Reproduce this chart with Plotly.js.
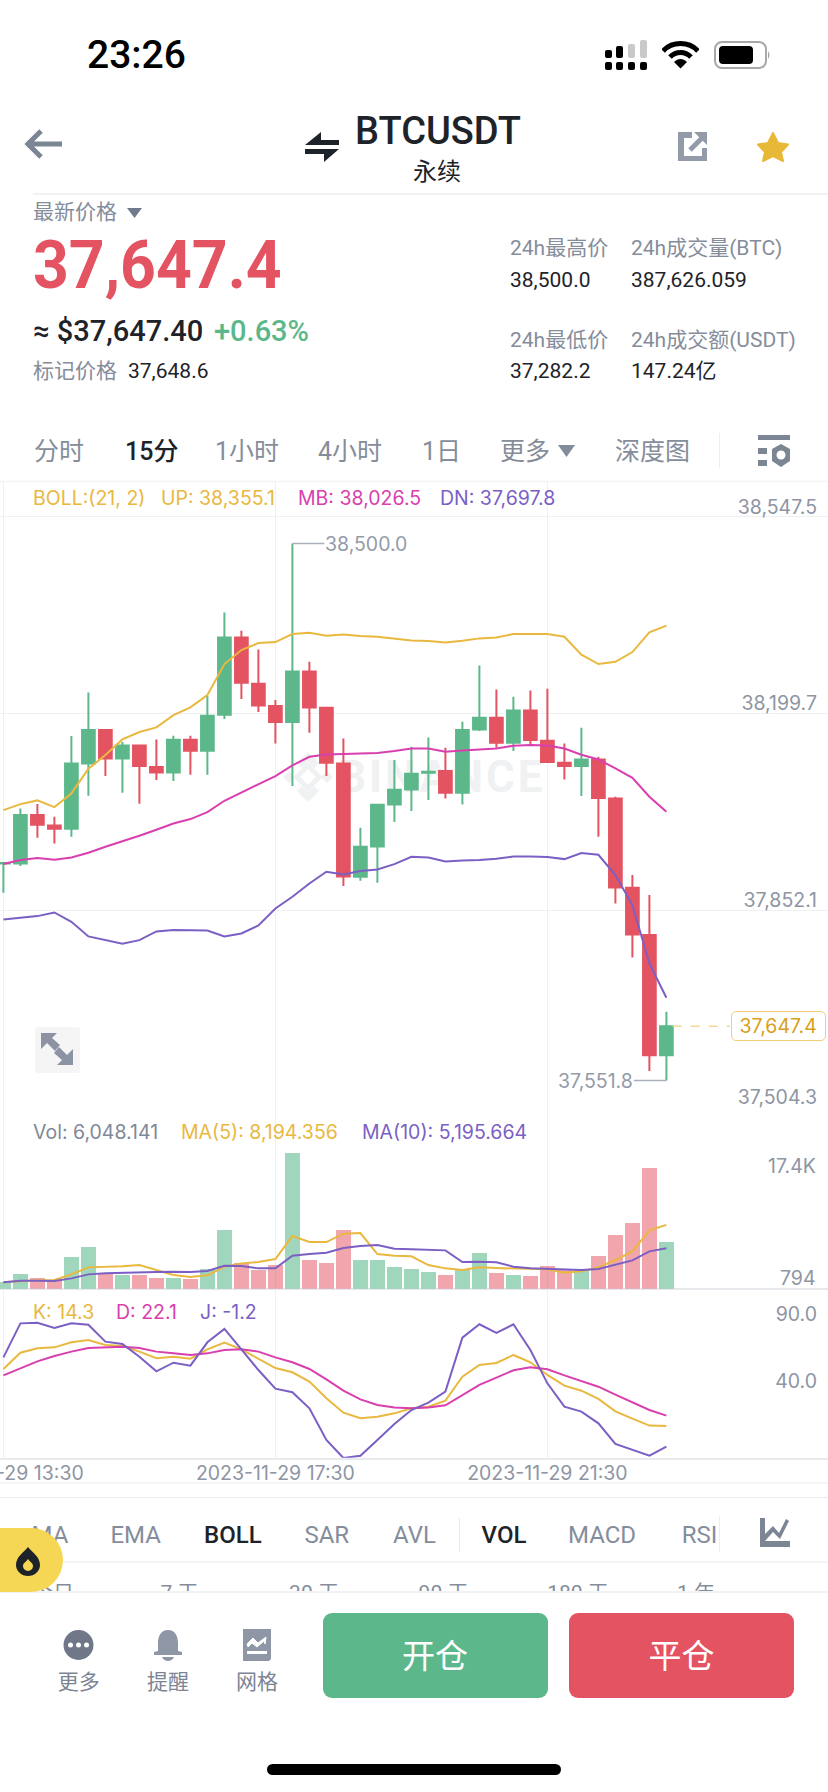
<!DOCTYPE html>
<html lang="zh"><head><meta charset="utf-8">
<script src="https://cdn.plot.ly/plotly-3.0.1.min.js"></script>
<style>
html,body{margin:0;padding:0;background:#fff;width:828px;height:1792px;overflow:hidden}
#wm,#chart,#ui{position:absolute;left:0;top:0;width:828px;height:1792px}
#ui{pointer-events:none}
#ui span.t{position:absolute;white-space:nowrap;transform:translateY(-50%);line-height:1;font-family:Roboto,"Noto Sans CJK SC",sans-serif}
#ui svg,#wm svg{position:absolute}
.box{position:absolute}
</style></head><body>
<div id="wm"></div><div id="chart"></div><div id="ui"></div>
<script>
const categories=[0,1,2,3,4,5,6,7,8,9,10,11,12,13,14,15,16,17,18,19,20,21,22,23,24,25,26,27,28,29,30,31,32,33,34,35,36,37,38,39];
const timeTickIndex=[0,16,32];
const timeTickLabels=["2023-11-29 13:30","2023-11-29 17:30","2023-11-29 21:30"];
const priceTicks=[38547.5,38199.7,37852.1,37504.3];
const priceTickLabels=["38,547.5","38,199.7","37,852.1","37,504.3"];
const kdjTicks=[90,40];
const kdjTickLabels=["90.0","40.0"];
const open=[37935.1,37935.1,38020.5,38002.2,37996.3,38111.7,38170.6,38120.6,38143.5,38105.3,38095.8,38153.5,38134.1,38197.7,38334.3,38252.5,38213.0,38184.8,38274.3,38210.1,38111.7,37911.5,37965.1,38039.3,38065.8,38095.2,38098.2,38059.9,38171.8,38192.4,38148.2,38205.4,38151.8,38112.9,38107.0,38118.8,38049.9,37892.1,37808.5,37596.4];
const high=[37936.0,38032.2,38039.9,38017.5,38160.0,38237.2,38170.6,38149.4,38145.3,38154.1,38160.6,38160.6,38230.7,38378.5,38346.1,38313.1,38223.6,38500.0,38291.3,38210.1,38155.9,37998.1,38038.7,38117.6,38141.2,38157.7,38139.4,38185.3,38284.9,38242.5,38229.5,38240.7,38243.6,38147.1,38174.8,38123.5,38052.8,37914.5,37879.1,37673.0];
const low=[37883.2,37930.4,37980.4,37970.4,37982.2,38054.6,38089.4,38059.9,38040.5,38082.3,38080.5,38091.7,38091.7,38190.1,38225.4,38202.4,38147.1,38071.7,38165.9,38089.4,37895.0,37904.4,37900.9,38008.1,38027.5,38047.0,38049.9,38039.3,38168.9,38139.4,38133.5,38145.9,38114.1,38083.5,38054.0,37982.2,37864.4,37769.0,37568.2,37551.8];
const close=[37936.0,38020.5,38003.4,37996.3,38111.7,38170.6,38120.6,38143.5,38107.0,38095.8,38153.5,38134.1,38195.9,38334.3,38254.2,38214.2,38184.8,38274.3,38210.7,38112.9,37912.1,37964.5,38038.7,38065.2,38093.5,38097.0,38059.9,38170.6,38192.4,38148.2,38205.4,38153.0,38114.1,38107.0,38118.8,38050.5,37892.7,37809.6,37596.4,37647.4];
const bollUp=[38029.3,38039.9,38046.4,38034.6,38058.7,38102.3,38126.5,38154.1,38167.1,38175.3,38197.1,38210.7,38232.5,38287.2,38312.0,38324.3,38326.1,38340.2,38342.6,38337.3,38339.6,38336.7,38335.5,38332.6,38329.0,38327.9,38325.5,38328.5,38332.6,38334.3,38340.2,38340.2,38340.2,38335.5,38303.7,38287.2,38291.3,38308.4,38343.2,38355.1];
const bollMb=[37933.9,37941.0,37944.5,37941.5,37945.7,37953.9,37964.5,37973.9,37983.9,37994.5,38005.7,38013.4,38025.8,38045.8,38060.5,38075.2,38089.4,38108.2,38123.5,38127.6,38128.2,38128.8,38130.0,38133.5,38138.2,38138.2,38132.3,38134.7,38136.5,38138.2,38142.9,38144.1,38143.5,38138.2,38127.0,38118.8,38102.9,38086.4,38052.8,38026.5];
const bollDn=[37836.1,37839.7,37842.0,37848.5,37832.0,37806.1,37799.6,37793.1,37799.6,37814.9,37817.3,37817.3,37816.7,37806.1,37811.4,37825.5,37855.6,37876.2,37899.7,37920.3,37915.6,37921.5,37924.5,37933.9,37946.8,37945.7,37938.6,37940.4,37941.0,37943.3,37947.4,37947.4,37946.3,37942.7,37953.3,37950.4,37914.5,37861.5,37758.4,37697.8];
const volume=[856,1926,1327,1027,4023,5350,2012,1712,1755,1412,1412,1241,2482,7576,3253,2354,2996,17462,3681,3253,7576,3681,3724,2782,2482,2140,1798,2482,4580,1969,1798,1669,2910,2525,2397,4152,6848,8474,15451,6048];
const volMa5=[813,984,1070,1113,1840,2739,2782,2868,3039,2397,1755,1498,1712,2825,3253,3424,3809,6762,5992,5992,7062,7148,4451,4237,4152,3039,2611,2397,2739,2654,2568,2482,2482,2054,2226,2739,3681,4794,7490,8194];
const volMa10=[813,1027,1027,984,1327,1840,1969,2054,2097,2140,2183,2140,2268,2953,2910,2611,2611,4237,4451,4622,5222,5478,5607,5136,5050,5008,4922,3424,3467,3381,2825,2611,2568,2440,2397,2525,3039,3638,4794,5196];
const kdjK=[57.1,69.3,72.6,73.3,77.1,78.8,75.1,74.3,70.1,65.1,66.3,64.8,71.8,76.8,71.8,64.8,57.8,54.6,47.6,35.1,24.3,20.1,21.3,23.8,27.6,28.8,33.3,51.3,60.1,61.6,67.6,62.1,52.6,44.6,40.8,34.6,25.3,19.8,14.6,14.3];
const kdjD=[52.3,57.6,62.8,66.8,70.1,72.8,73.3,73.8,72.8,70.1,68.8,67.6,68.8,71.3,71.8,70.1,65.8,62.1,57.1,49.3,40.8,34.3,30.1,28.1,27.6,28.1,29.8,37.6,45.1,50.6,56.1,58.3,56.8,52.3,48.3,43.8,37.8,32.1,26.3,22.1];
const kdjJ=[65.8,91.3,91.8,87.8,91.3,90.3,77.6,75.8,66.3,55.3,61.8,59.6,77.1,87.1,71.8,56.3,42.3,39.6,27.6,3.8,-9.7,-8.0,3.8,15.8,26.3,31.8,40.1,80.6,90.6,84.1,90.6,71.3,46.3,28.8,25.1,16.3,0.8,-3.7,-8.0,-1.2];

const GREEN='#5cb88a',RED='#e45361',GOLD='#e9b83f',PINK='#d93fae',PURPLE='#7b5fc4',GRAY='#8e95a3',GRID='#eff0f2';
const W=828,H=1792;
const dom=(t,b)=>[1-b/H,1-t/H];
const px=x=>x/W, py=y=>1-y/H;
const xr=[-0.2,48.506];
const FS=19.5;
const lineTrace=(x,y,c,xa,ya)=>({type:'scatter',mode:'lines',x,y,xaxis:xa,yaxis:ya,line:{color:c,width:2,shape:'linear'},hoverinfo:'skip'});
const data=[
 {type:'candlestick',x:categories,open,high,low,close,xaxis:'x',yaxis:'y',whiskerwidth:0,
  increasing:{line:{color:GREEN,width:2},fillcolor:GREEN},decreasing:{line:{color:RED,width:2},fillcolor:RED},hoverinfo:'skip'},
 lineTrace(categories,bollUp,GOLD,'x','y'),lineTrace(categories,bollMb,PINK,'x','y'),lineTrace(categories,bollDn,PURPLE,'x','y'),
 {type:'bar',x:categories,y:volume,xaxis:'x2',yaxis:'y2',width:0.875,marker:{color:close.map((c,i)=>c>=open[i]?'rgba(92,184,138,0.58)':'rgba(228,83,97,0.52)'),line:{width:0}},hoverinfo:'skip'},
 lineTrace(categories,volMa5,GOLD,'x2','y2'),lineTrace(categories,volMa10,PURPLE,'x2','y2'),
 lineTrace(categories,kdjK,GOLD,'x3','y3'),lineTrace(categories,kdjD,PINK,'x3','y3'),lineTrace(categories,kdjJ,PURPLE,'x3','y3')
];
const F={family:'Inter, Roboto, sans-serif',size:FS,color:GRAY};
const xbase={type:'linear',range:xr,showgrid:true,gridcolor:GRID,gridwidth:1,zeroline:false,tickmode:'array',tickvals:timeTickIndex,ticktext:timeTickLabels,showticklabels:false,ticks:'',rangeslider:{visible:false},fixedrange:true};
const ybase={side:'right',showgrid:false,zeroline:false,fixedrange:true,showticklabels:false,ticks:''};
const yInside={showticklabels:true,tickmode:'array',ticklabelposition:'inside',ticklabelstandoff:8,ticklabelshift:-10,ticklabeloverflow:'allow',tickfont:F};
const note=(text,x,y,color,extra)=>Object.assign({text,xref:'paper',yref:'paper',x:px(x),y:py(y),xanchor:'left',yanchor:'middle',showarrow:false,font:{family:F.family,size:FS,color},borderpad:0,borderwidth:0},extra||{});
const layout={width:W,height:H,margin:{l:0,r:0,t:0,b:0},paper_bgcolor:'rgba(0,0,0,0)',plot_bgcolor:'rgba(0,0,0,0)',showlegend:false,bargap:0,boxgap:0.253,boxgroupgap:0,hovermode:false,font:F,
 xaxis:Object.assign({},xbase,{domain:[0,1],anchor:'y'}),
 xaxis2:Object.assign({},xbase,{domain:[0,1],anchor:'y2'}),
 xaxis3:Object.assign({},xbase,{domain:[0,1],anchor:'y3',showticklabels:true,tickfont:F,ticklabeloverflow:'allow',ticklabelposition:'outside',ticklabelstandoff:-3,showline:true,linecolor:'#e8eaed',linewidth:2}),
 yaxis:Object.assign({},ybase,yInside,{domain:dom(481,1107.3),anchor:'x',range:[37504.3,38610.6],tickvals:priceTicks,ticktext:priceTickLabels,showgrid:true,gridcolor:GRID,gridwidth:1.5}),
 yaxis2:Object.assign({},ybase,{domain:dom(1107.3,1288.7),anchor:'x2',range:[0,23292],zeroline:true,zerolinecolor:'#e6e8ec',zerolinewidth:2}),
 yaxis3:Object.assign({},ybase,yInside,{domain:dom(1288.7,1457.7),anchor:'x3',range:[-9.47,117.3],tickvals:kdjTicks,ticktext:kdjTickLabels,ticklabelshift:-11}),
 shapes:[
  {type:'line',xref:'paper',yref:'paper',x0:0,x1:1,y0:py(481.5),y1:py(481.5),line:{color:'#f3f4f5',width:1.5}},
  {type:'line',xref:'x',yref:'y',x0:17,x1:18.88,y0:38500,y1:38500,line:{color:'#a9b0ba',width:1.5}},
  {type:'line',xref:'x',yref:'y',x0:37.09,x1:39,y0:37551.8,y1:37551.8,line:{color:'#a9b0ba',width:1.5}},
  {type:'line',xref:'x',yref:'y',x0:39.37,x1:42.74,y0:37647.4,y1:37647.4,line:{color:'#f2d98f',width:1.5,dash:'dash'}}
 ],
 annotations:[
  note('BOLL:(21, 2)',32.7,498,GOLD),note('UP: 38,355.1',160.7,498,GOLD),note('MB: 38,026.5',297.7,498,PINK),note('DN: 37,697.8',440,498,PURPLE),
  note('38,500.0',325,544,'#949ba8'),note('37,551.8',558.3,1081,'#949ba8'),
  note('Vol: 6,048.141',32.7,1131.7,'#808897'),note('MA(5): 8,194.356',181,1131.7,GOLD),note('MA(10): 5,195.664',361.7,1131.7,PURPLE),
  note('K: 14.3',32.7,1312,GOLD),note('D: 22.1',115.7,1312,PINK),note('J: -1.2',200,1312,PURPLE),
  note('17.4K',816,1166,GRAY,{xanchor:'right'}),note('794',816,1278.3,GRAY,{xanchor:'right'})
 ]
};
Plotly.newPlot('chart',data,layout,{displayModeBar:false,staticPlot:true});

/* watermark behind the plot */
document.getElementById('wm').innerHTML=
 '<svg style="left:283px;top:752px" width="50" height="50" viewBox="0 0 50 50"><g fill="#f0f1f2"><rect x="17" y="17" width="16" height="16" transform="rotate(45 25 25)" fill="none" stroke="#f0f1f2" stroke-width="5"/><path d="M25 0l11 11-5 5-6-6-6 6-5-5zM25 50L14 39l5-5 6 6 6-6 5 5zM0 25l6-6 6 6-6 6zM50 25l-6-6-6 6 6 6z"/></g></svg>'+
 '<span style="position:absolute;left:338px;top:777px;transform:translateY(-50%);font:700 44px Roboto,sans-serif;letter-spacing:3px;color:#f0f1f2;white-space:nowrap">BINANCE</span>';

/* app chrome */
const ui=document.getElementById('ui');let h='';
const T=(s,x,y,size,color,w,anchor,sx)=>{h+=`<span class="t" style="${anchor==='c'?'transform:translate(-50%,-50%);':''}${sx?`transform:translateY(-50%) scaleX(${sx});transform-origin:left center;`:''}left:${x}px;top:${y}px;font-size:${size}px;color:${color};font-weight:${w||400}">${s}</span>`};
const S=(x,y,w,ht,inner,vb)=>{h+=`<svg style="left:${x}px;top:${y}px" width="${w}" height="${ht}" viewBox="${vb||`0 0 ${w} ${ht}`}">${inner}</svg>`};
const R=(x,y,w,ht,bg,extra)=>{h+=`<div class="box" style="left:${x}px;top:${y}px;width:${w}px;height:${ht}px;background:${bg};${extra||''}"></div>`};
const DK='#1e2329',LB='#858d9b',IC='#8c93a2';
T('23:26',87,55,39,'#000',500);
S(605,40,43,30,'<g fill="#000"><rect x="0" y="10" width="7" height="8" rx="2"/><rect x="11" y="6" width="7" height="12" rx="2"/><rect x="0" y="22" width="7" height="8" rx="2"/><rect x="11" y="22" width="7" height="8" rx="2"/><rect x="23" y="22" width="7" height="8" rx="2"/><rect x="35" y="22" width="7" height="8" rx="2"/></g><g fill="#c9c9c9"><rect x="23" y="4" width="7" height="14" rx="2"/><rect x="35" y="0" width="7" height="18" rx="2"/></g>');
S(662,41,37,28,'<path d="M1 10C10 0 27 0 36 10" stroke="#000" stroke-width="5" fill="none"/><path d="M8 16c6-6 15-6 21 0" stroke="#000" stroke-width="5" fill="none"/><path d="M12 21c4-4 9-4 13 0l-6.500 6.500z" fill="#000"/>');
S(714,41,58,28,'<rect x="1" y="1" width="51" height="26" rx="7" fill="#fff" stroke="#a8a8a8" stroke-width="2"/><rect x="5" y="5" width="34" height="18" rx="4" fill="#000"/><path d="M54 10q3 4 0 8z" fill="#a8a8a8"/>');
S(24,129,39,30,'<path d="M38 15H6M17 2L4 15l13 13" stroke="#7c8594" stroke-width="5" fill="none"/>');
S(305,132,35,30,'<path d="M16 0V8H34V13H0zM0 17H34L19 30V22H0z" fill="#1e2329"/>');
T('BTCUSDT',355,130.500,38,'#1e2329',500);
T('永续',437,172,24,DK,400,'c');
S(678,132,29,29,'<path d="M14 3H3v24h24V16" stroke="#949ba8" stroke-width="6" fill="none"/><path d="M12 18L24 6" stroke="#949ba8" stroke-width="5"/><path d="M16 0h13v13z" fill="#949ba8"/>');
S(756,131,34,32,'<path d="M17 2l5 10 10 1.500-7 7.500 2 9-10-5-10 5 2-9-7-7.500L12 12z" fill="#e8b838" stroke="#e8b838" stroke-width="2" stroke-linejoin="round"/>');
R(33,193,795,1.500,'#f1f2f3');
T('最新价格',33,212,21,LB);
S(127,208,15,11,'<path d="M0 0h15l-7.500 10z" fill="#6f7a8c"/>');
T('37,647.4',33,266,66,RED,700,'',0.947);
T('≈ $37,647.40',33,331,29,DK,500);
T('+0.63%',214,331,29,GREEN,500);
T('标记价格',33,371,21,LB);
T('37,648.6',128,371,21,DK);
T('24h最高价',510,248,21,LB);T('38,500.0',510,280,21,DK);
T('24h成交量(BTC)',631,248,21,LB);T('387,626.059',631,280,21,DK);
T('24h最低价',510,340,21,LB);T('37,282.2',510,371,21,DK);
T('24h成交额(USDT)',631,340,21,LB);T('147.24亿',631,371,21,DK);
T('分时',34,451,25,LB);T('15分',125,451,25,DK,500);T('1小时',215,451,25,LB);T('4小时',318,451,25,LB);T('1日',422,451,25,LB);T('更多',500,451,25,LB);T('深度图',615,451,25,LB);
S(558,445,17,12,'<path d="M0 0h17l-8.500 12z" fill="#838c9b"/>');
R(719,433,1,35,'#eceef0');
S(758,435,32,33,'<rect x="0" y="0" width="32" height="5" fill="#7c8594"/><rect x="0" y="13" width="9" height="6" fill="#7c8594"/><rect x="0" y="25" width="9" height="6" fill="#7c8594"/><path d="M23 9l9 5v12l-9 6-9-6V14z" fill="#7c8594"/><circle cx="23" cy="20" r="4.500" fill="#fff"/>');
/* expand button */
R(35,1027,45,45.500,'#f5f5f6','border-radius:3px');
S(40,1032,35,35,'<path d="M1 1h16l-5 5 8 7-5 6-8-8-6 6zM33 33H17l5-5-8-7 5-6 8 8 6-6z" fill="#8c93a2"/>');
/* last price tag */
h+='<div class="box" style="left:730.7px;top:1010.7px;width:93px;height:28px;border:1.5px solid #f2cf73;border-radius:5px;background:#fff;text-align:center;font:19.5px/28px Inter,sans-serif;color:#d99f1c">37,647.4</div>';
/* indicator row */
R(0,1482,828,1.500,'#f4f5f6');R(0,1496.5,828,1.500,'#e9ebef');
const rowF=24;
T('MA',50,1535,rowF,LB,400,'c');T('EMA',135.700,1535,rowF,LB,400,'c');T('BOLL',232.800,1535,rowF,DK,500,'c');T('SAR',326.800,1535,rowF,LB,400,'c');T('AVL',414.500,1535,rowF,LB,400,'c');
R(458.500,1518,1,34,'#e6e8ea');
T('VOL',504,1535,rowF,DK,500,'c');T('MACD',602,1535,rowF,LB,400,'c');T('RSI',699.600,1535,rowF,LB,400,'c');
R(718.500,1516,1,36,'#eceef0');
S(760,1518,30,29,'<path d="M0 0h5v16L13 8l6 7L26 1l3 2-9 18-7-7-8 9h26v6H0z" fill="#7c8594"/>');
R(0,1561,828,1.500,'#f3f4f5');
/* clipped lower row */
h+='<div class="box" style="left:0;top:1566px;width:828px;height:25px;overflow:hidden">';
[['今日',53],['7 天',179.500],['30 天',314],['90 天',443.500],['180 天',578],['1 年',696]].forEach(a=>{h+=`<span class="t" style="transform:translate(-50%,-50%);left:${a[1]}px;top:27px;font-size:21px;color:${LB}">${a[0]}</span>`});
h+='</div>';
R(0,1591,828,1.500,'#f1f2f3');
/* bubble */
R(-32,1528,95,63.700,'#f6d655','border-radius:32px');
S(16,1547,24,29,'<path d="M12 0C17 6 24 10 24 18a12 11 0 0 1-24 0C0 10 7 6 12 0z" fill="#1e2329"/><path d="M12 12c2 3 5 4 5 7a5 5 0 0 1-10 0c0-3 3-4 5-7z" fill="#f6d655"/>');
/* bottom toolbar */
S(63,1630,31,30,'<circle cx="15.500" cy="15" r="15" fill="#6f7789"/><g fill="#fff"><circle cx="7.500" cy="15" r="2.500"/><circle cx="15.500" cy="15" r="2.500"/><circle cx="23.500" cy="15" r="2.500"/></g>');
S(154,1630,28,31,'<path d="M14 0c7 0 10 6 10 13v8l4 1v3H0v-3l4-1v-8C4 6 7 0 14 0z" fill="#8f96a5"/><path d="M8 27h12q-2 4-6 4t-6-4z" fill="#8f96a5"/>');
S(243,1629,28,32,'<path d="M2 0h26v30l-2 2H0V0z" fill="#8f96a5"/><path d="M4 15l6-6 5 5 8-6-1 7-1-3-7 6-5-4-4 4z" fill="#fff" stroke="#fff"/><rect x="4" y="22" width="20" height="3" fill="#fff"/>');
T('更多',78.700,1682,21,'#7c8594',400,'c');T('提醒',168,1682,21,'#7c8594',400,'c');T('网格',257,1682,21,'#7c8594',400,'c');
R(323,1613,224.500,85,GREEN,'border-radius:9px');R(569,1613,224.500,85,RED,'border-radius:9px');
T('开仓',435,1656,33,'#fff',400,'c');T('平仓',681.500,1656,33,'#fff',400,'c');
R(267,1764,294,11,'#000','border-radius:6px');
ui.innerHTML=h;
</script>
</body></html>
